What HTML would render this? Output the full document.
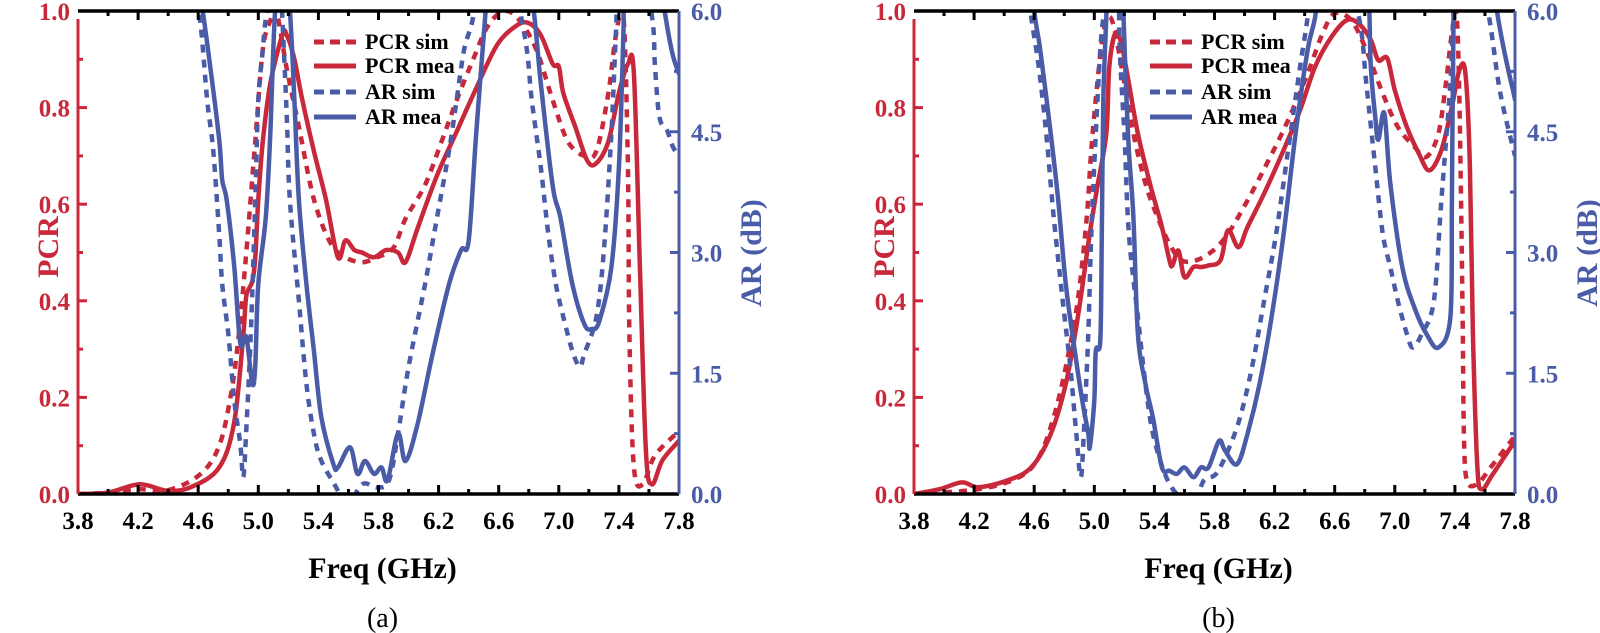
<!DOCTYPE html>
<html><head><meta charset="utf-8"><style>
html,body{margin:0;padding:0;background:#fff;}
svg, svg text{font-family:'Liberation Serif','DejaVu Serif',serif !important;}
svg{display:block;}
</style></head><body>
<svg id="fig" width="1600" height="633" viewBox="0 0 1600 633"></svg>
<script>
// ---- data (GHz, value) ----
const xTicks = [3.8,4.2,4.6,5.0,5.4,5.8,6.2,6.6,7.0,7.4,7.8];
const pcrTicks = ['0.0','0.2','0.4','0.6','0.8','1.0'];
const arTicks = ['0.0','1.5','3.0','4.5','6.0'];
const legendLabels = ['PCR sim','PCR mea','AR sim','AR mea'];

const aPcrMeaX=[3.80,4.00,4.21,4.39,4.55,4.74,4.84,4.90,4.92,4.96,4.98,5.00,5.03,5.08,5.16,5.19,5.24,5.29,5.37,5.45,5.53,5.58,5.64,5.69,5.77,5.85,5.93,5.98,6.06,6.19,6.32,6.45,6.59,6.72,6.80,6.88,6.96,7.00,7.03,7.11,7.19,7.25,7.33,7.40,7.46,7.50,7.54,7.58,7.62,7.69,7.80];
const aPcrMeaY=[0,0.003,0.02,0.007,0.014,0.055,0.15,0.33,0.41,0.44,0.49,0.61,0.73,0.85,0.95,0.95,0.90,0.82,0.71,0.61,0.49,0.525,0.505,0.50,0.49,0.505,0.50,0.48,0.55,0.66,0.75,0.84,0.93,0.97,0.975,0.95,0.89,0.885,0.83,0.76,0.69,0.685,0.73,0.83,0.89,0.87,0.47,0.09,0.02,0.07,0.11];
const aPcrSimX=[3.80,4.00,4.20,4.39,4.61,4.74,4.82,4.87,4.92,4.98,5.03,5.08,5.12,5.19,5.27,5.37,5.48,5.58,5.69,5.79,5.90,5.98,6.11,6.22,6.32,6.43,6.53,6.64,6.74,6.85,6.96,7.06,7.17,7.25,7.33,7.38,7.43,7.46,7.47,7.50,7.56,7.64,7.80];
const aPcrSimY=[0,0.003,0.01,0.007,0.04,0.10,0.21,0.33,0.50,0.73,0.92,0.98,1.0,0.88,0.76,0.61,0.52,0.49,0.48,0.49,0.51,0.57,0.64,0.73,0.815,0.90,0.97,1.0,0.98,0.92,0.815,0.73,0.70,0.71,0.83,0.95,0.99,0.68,0.33,0.055,0.02,0.08,0.13];
const aArMeaX=[4.55,4.63,4.68,4.74,4.76,4.79,4.84,4.88,4.92,4.96,4.98,5.00,5.05,5.08,5.11,5.16,5.21,5.24,5.27,5.32,5.37,5.42,5.50,5.53,5.61,5.66,5.71,5.77,5.82,5.86,5.93,5.98,6.06,6.16,6.27,6.35,6.40,6.45,6.51,6.53,6.67,6.82,6.88,6.96,7.01,7.09,7.17,7.22,7.27,7.35,7.40,7.43,7.44,7.56,7.68,7.75,7.80];
const aArMeaY=[7,6.0,5.31,4.40,3.90,3.65,2.82,1.87,1.95,1.37,1.60,2.61,3.44,4.48,5.93,7,6.0,4.89,3.65,2.61,1.78,0.95,0.37,0.33,0.58,0.25,0.41,0.25,0.33,0.17,0.75,0.41,0.87,1.74,2.61,3.03,3.15,4.48,5.93,6.5,8,6.2,5.10,3.82,3.44,2.61,2.11,2.05,2.15,2.82,4.06,5.72,6.5,8,6.3,5.52,5.22];
const aArSimX=[4.55,4.61,4.66,4.70,4.74,4.76,4.80,4.84,4.88,4.90,4.92,4.95,4.98,5.00,5.03,5.05,5.11,5.13,5.16,5.19,5.21,5.27,5.32,5.37,5.42,5.53,5.58,5.69,5.79,5.87,5.93,6.00,6.11,6.19,6.27,6.32,6.37,6.43,6.45,6.61,6.77,6.82,6.88,6.93,6.98,7.03,7.09,7.14,7.17,7.25,7.30,7.35,7.38,7.40,7.51,7.62,7.64,7.67,7.72,7.76,7.80];
const aArSimY=[6.5,5.93,4.89,4.27,3.23,2.61,1.99,1.16,0.62,0.21,0.8,1.99,3.65,4.89,5.52,5.90,6.5,7,5.93,4.68,3.65,2.40,1.37,0.75,0.41,0.04,-0.2,0.12,0.08,0.17,0.75,1.58,2.61,3.44,4.27,4.89,5.52,5.93,6.5,7,5.72,4.89,4.06,3.23,2.61,2.20,1.78,1.58,1.74,2.20,3.03,4.48,5.72,6.3,7,5.93,5.31,4.68,4.52,4.31,4.20];

const bPcrMeaX=[3.80,3.97,4.12,4.23,4.42,4.58,4.71,4.81,4.89,4.97,5.02,5.08,5.10,5.14,5.18,5.23,5.29,5.37,5.45,5.50,5.52,5.56,5.60,5.66,5.71,5.76,5.84,5.89,5.96,6.02,6.13,6.26,6.37,6.47,6.58,6.68,6.76,6.84,6.89,6.95,7.00,7.08,7.16,7.23,7.31,7.38,7.43,7.47,7.50,7.52,7.55,7.58,7.65,7.80];
const bPcrMeaY=[0,0.010,0.024,0.014,0.028,0.055,0.124,0.228,0.366,0.539,0.636,0.746,0.885,0.954,0.933,0.850,0.746,0.643,0.553,0.484,0.473,0.504,0.449,0.470,0.470,0.473,0.484,0.546,0.511,0.553,0.622,0.712,0.795,0.885,0.947,0.981,0.974,0.940,0.898,0.902,0.836,0.760,0.705,0.670,0.712,0.802,0.878,0.871,0.677,0.332,0.055,0.01,0.04,0.11];
const bPcrSimX=[3.80,4.23,4.50,4.63,4.73,4.81,4.89,4.95,4.98,5.02,5.06,5.10,5.14,5.20,5.26,5.34,5.42,5.50,5.58,5.68,5.79,5.89,6.02,6.16,6.29,6.42,6.52,6.60,6.71,6.81,6.92,7.02,7.13,7.21,7.29,7.34,7.38,7.41,7.43,7.45,7.46,7.48,7.55,7.65,7.80];
const bPcrSimY=[0,0.010,0.035,0.076,0.159,0.263,0.401,0.574,0.712,0.850,0.954,0.988,0.954,0.850,0.746,0.643,0.574,0.518,0.484,0.484,0.504,0.539,0.608,0.691,0.774,0.871,0.954,0.995,0.981,0.919,0.829,0.760,0.719,0.698,0.746,0.850,0.954,0.995,0.815,0.401,0.124,0.028,0.021,0.06,0.12];
const bArMeaX=[4.55,4.60,4.64,4.71,4.76,4.81,4.87,4.92,4.96,4.97,5.00,5.01,5.04,5.05,5.06,5.08,5.09,5.13,5.18,5.21,5.23,5.26,5.29,5.34,5.39,5.45,5.50,5.55,5.60,5.66,5.71,5.76,5.83,5.87,5.95,6.02,6.10,6.18,6.26,6.34,6.42,6.47,6.50,6.66,6.81,6.84,6.87,6.89,6.93,6.97,7.05,7.13,7.21,7.29,7.37,7.38,7.39,7.41,7.55,7.68,7.80];
const bArMeaY=[7,6.0,5.52,4.48,3.65,2.61,1.78,1.16,0.75,0.58,1.16,1.78,1.91,3.23,4.89,5.93,6.5,7,6.5,5.10,4.27,3.44,1.99,1.37,0.95,0.33,0.29,0.25,0.33,0.21,0.33,0.33,0.66,0.54,0.37,0.75,1.37,2.20,3.23,4.48,5.52,5.93,6.5,8,6.5,5.31,4.68,4.40,4.73,3.86,2.82,2.32,1.99,1.82,2.20,3.65,5.72,6.5,8,6.0,4.9];
const bArSimX=[4.55,4.58,4.63,4.68,4.73,4.79,4.84,4.88,4.91,4.93,4.96,4.98,5.01,5.04,5.06,5.09,5.13,5.16,5.17,5.20,5.23,5.29,5.34,5.39,5.47,5.55,5.66,5.73,5.81,5.89,5.97,6.05,6.13,6.21,6.29,6.37,6.42,6.45,6.60,6.76,6.81,6.87,6.92,6.97,7.02,7.08,7.12,7.18,7.26,7.31,7.37,7.39,7.41,7.50,7.62,7.70,7.80];
const bArSimY=[6.5,5.93,5.31,4.48,3.44,2.40,1.58,0.75,0.21,0.75,1.99,3.23,4.48,5.52,5.93,6.5,7,6.5,5.52,4.48,3.23,2.20,1.37,0.75,0.25,0,-0.1,0.17,0.25,0.54,0.95,1.58,2.40,3.23,4.27,5.31,5.93,6.5,7,5.93,5.10,4.06,3.23,2.82,2.40,1.99,1.82,1.99,2.40,3.65,5.10,5.93,6.5,7,6.0,5.0,4.2];

const RED='#c8283a', BLUE='#4a5ca8';
const FONT="'Liberation Serif','DejaVu Serif',serif";
const NS='http://www.w3.org/2000/svg';
const svg=document.getElementById('fig');
function mk(tag,attrs,parent){const e=document.createElementNS(NS,tag);for(const k in attrs)e.setAttribute(k,attrs[k]);if(tag==='text')e.style.fontFamily=FONT;(parent||svg).appendChild(e);return e;}

function smoothPath(P){
  let d='M'+P[0][0].toFixed(1)+','+P[0][1].toFixed(1);
  for(let i=0;i<P.length-1;i++){
    const p0=P[i-1]||P[i],p1=P[i],p2=P[i+1],p3=P[i+2]||P[i+1];
    const t=0.5/3;
    const c1=[p1[0]+(p2[0]-p0[0])*t,p1[1]+(p2[1]-p0[1])*t];
    const c2=[p2[0]-(p3[0]-p1[0])*t,p2[1]-(p3[1]-p1[1])*t];
    d+=' C'+c1[0].toFixed(1)+','+c1[1].toFixed(1)+' '+c2[0].toFixed(1)+','+c2[1].toFixed(1)+' '+p2[0].toFixed(1)+','+p2[1].toFixed(1);
  }
  return d;
}

function drawPanel(id,L,R,T,B,series,legX,caption){
  const g=mk('g',{});
  
  
  const xs=v=>L+(v-3.8)/(7.8-3.8)*(R-L);
  const yp=v=>B-v*(B-T);
  const ya=v=>B-v/6*(B-T);
  const cp=mk('clipPath',{id:'clip'+id},g);
  mk('rect',{x:L,y:T,width:R-L,height:B-T},cp);
  const dg=mk('g',{'clip-path':'url(#clip'+id+')'},g);
  series.forEach(s=>{
    const yf=s.axis==='pcr'?yp:ya;
    const P=s.x.map((v,i)=>[xs(v),yf(s.y[i])]);
    const p=mk('path',{d:smoothPath(P),fill:'none',stroke:s.color,'stroke-width':4.5,'stroke-linejoin':'round','stroke-linecap':s.dash?'butt':'round'},dg);
    if(s.dash)p.setAttribute('stroke-dasharray','8,7');
    
    
  });
  const ax=mk('g',{},g);
  
  
  mk('line',{x1:L,y1:T,x2:R,y2:T,stroke:'#000','stroke-width':3.5},ax);
  mk('line',{x1:L,y1:B,x2:R,y2:B,stroke:'#000','stroke-width':3.5},ax);
  mk('line',{x1:L,y1:T+8,x2:L,y2:B,stroke:RED,'stroke-width':3},ax);
  mk('line',{x1:R,y1:T,x2:R,y2:B,stroke:BLUE,'stroke-width':3},ax);
  for(let i=1;i<20;i++){
    const x=xs(3.8+i*0.2), len=(i%2===0)?9:5;
    mk('line',{x1:x,y1:T,x2:x,y2:T+len,stroke:'#000','stroke-width':3},ax);
    mk('line',{x1:x,y1:B,x2:x,y2:B-len,stroke:'#000','stroke-width':3},ax);
  }
  xTicks.forEach(v=>{
    const t=mk('text',{x:xs(v),y:B+35,'text-anchor':'middle','font-size':25,'font-weight':'bold',fill:'#000'},g);
    t.textContent=v.toFixed(1);
    
    
  });
  for(let i=1;i<10;i++){
    const y=yp(i*0.1), len=(i%2===0)?9:5;
    mk('line',{x1:L,y1:y,x2:L+len,y2:y,stroke:RED,'stroke-width':3},ax);
  }
  pcrTicks.forEach(s=>{
    const t=mk('text',{x:L-8,y:yp(parseFloat(s))+9,'text-anchor':'end','font-size':25,'font-weight':'bold',fill:RED},g);
    t.textContent=s;
    
    
  });
  for(let i=1;i<8;i++){
    const y=ya(i*0.75), len=(i%2===0)?9:5;
    mk('line',{x1:R,y1:y,x2:R-len,y2:y,stroke:BLUE,'stroke-width':3},ax);
  }
  arTicks.forEach(s=>{
    const t=mk('text',{x:R+12,y:ya(parseFloat(s))+9,'text-anchor':'start','font-size':25,'font-weight':'bold',fill:BLUE},g);
    t.textContent=s;
    
    
  });
  const yl=mk('text',{x:0,y:0,transform:`translate(${L-20},247) rotate(-90)`,'text-anchor':'middle','font-size':30,'font-weight':'bold',fill:RED},g);
  yl.textContent='PCR';
  
  
  const yr=mk('text',{x:0,y:0,transform:`translate(${R+82},253) rotate(-90)`,'text-anchor':'middle','font-size':30,'font-weight':'bold',fill:BLUE},g);
  yr.textContent='AR (dB)';
  
  
  const xl=mk('text',{x:(L+R)/2+4,y:578,'text-anchor':'middle','font-size':30,'font-weight':'bold',fill:'#000'},g);
  xl.textContent='Freq (GHz)';
  
  
  const cap=mk('text',{x:(L+R)/2+4,y:627,'text-anchor':'middle','font-size':28,fill:'#000'},g);
  cap.textContent=caption;
  
  
  const lg=mk('g',{},g);
  
  
  const rows=[42,66,92,117];
  const cols=[RED,RED,BLUE,BLUE];
  legendLabels.forEach((lab,i)=>{
    const e=mk('g',{},lg);
    
    
    const ln=mk('line',{x1:legX,y1:rows[i],x2:legX+42,y2:rows[i],stroke:cols[i],'stroke-width':5},e);
    if(i%2===0)ln.setAttribute('stroke-dasharray','10,6');
    const t=mk('text',{x:legX+51,y:rows[i]+7,'font-size':22,'font-weight':'bold',fill:'#000'},e);
    t.textContent=lab;
  });
}

drawPanel('a',78,679,11,494,[
  {name:'pcr-sim-line',axis:'pcr',x:aPcrSimX,y:aPcrSimY,color:RED,dash:true},
  {name:'pcr-mea-line',axis:'pcr',x:aPcrMeaX,y:aPcrMeaY,color:RED,dash:false},
  {name:'ar-sim-line',axis:'ar',x:aArSimX,y:aArSimY,color:BLUE,dash:true},
  {name:'ar-mea-line',axis:'ar',x:aArMeaX,y:aArMeaY,color:BLUE,dash:false}
],314,'(a)');
drawPanel('b',914,1515,11,494,[
  {name:'pcr-sim-line',axis:'pcr',x:bPcrSimX,y:bPcrSimY,color:RED,dash:true},
  {name:'pcr-mea-line',axis:'pcr',x:bPcrMeaX,y:bPcrMeaY,color:RED,dash:false},
  {name:'ar-sim-line',axis:'ar',x:bArSimX,y:bArSimY,color:BLUE,dash:true},
  {name:'ar-mea-line',axis:'ar',x:bArMeaX,y:bArMeaY,color:BLUE,dash:false}
],1150,'(b)');
</script>
</body></html>
